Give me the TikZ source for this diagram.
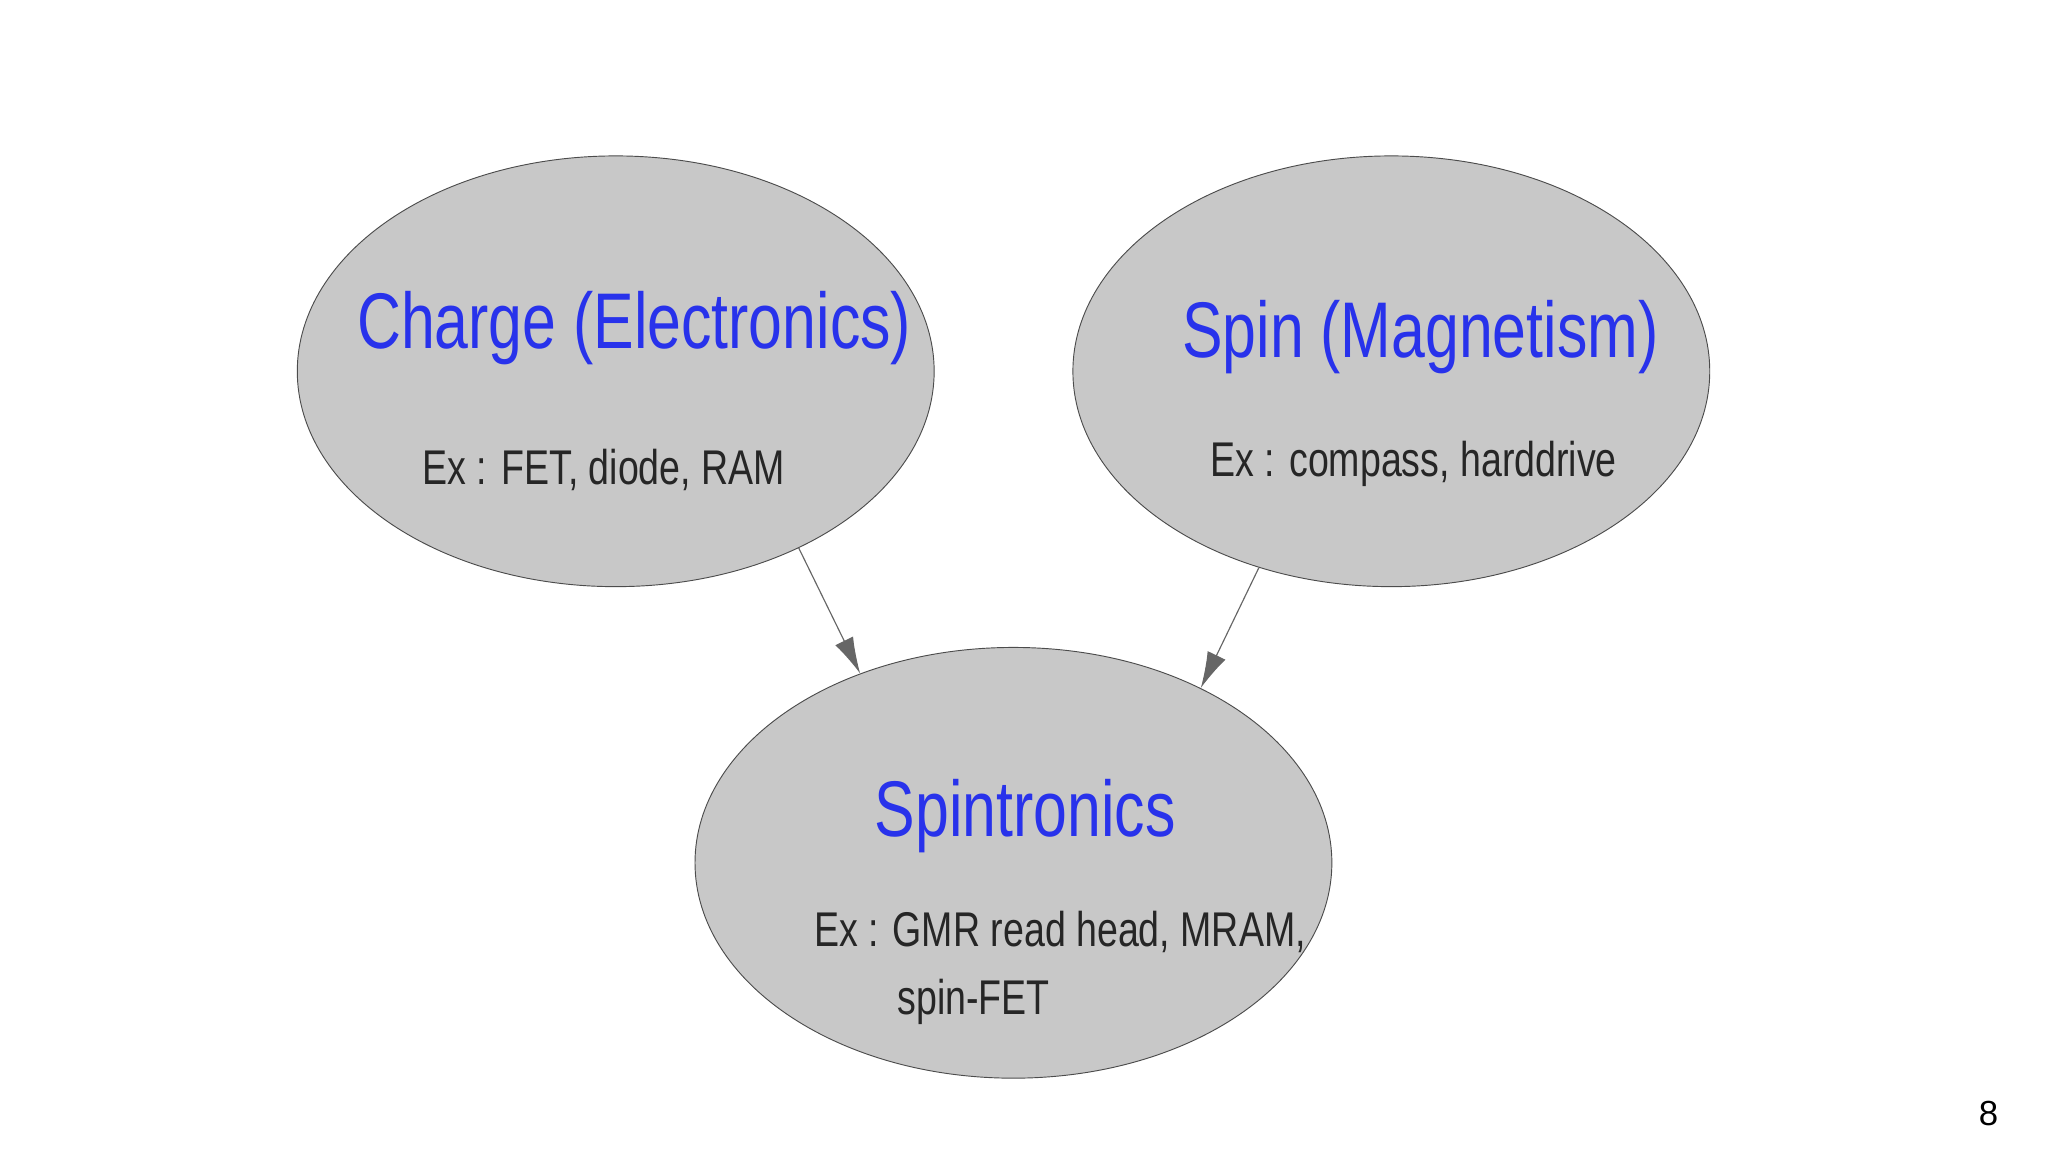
\documentclass[tikz,border=0pt]{standalone}
\usepackage{fontspec}
\setmainfont{Liberation Sans}
\newfontfamily\narrowsf{Liberation Sans}[FakeStretch=0.77]
\usetikzlibrary{shapes.geometric,arrows.meta}
\definecolor{bubblegray}{RGB}{200,200,200}
\definecolor{titleblue}{RGB}{40,50,235}
\tikzset{
  bubble/.style={ellipse, draw=black!70, line width=0.4pt, fill=bubblegray, minimum width=9.64cm, minimum height=6.52cm, inner sep=0pt},
  title/.style={font=\narrowsf\fontsize{34}{40}\selectfont, text=titleblue},
  example/.style={font=\narrowsf\fontsize{21}{25}\selectfont, text=black!85},
  link/.style={-{Latex[length=0.55cm,width=0.3cm]}, line width=0.5pt, draw=black!60}
}
\begin{document}
\begin{tikzpicture}
        \useasboundingbox (0,0) rectangle (31,-17.44);
        \node[bubble] (charge) at(9.32,-5.62){};
        \node[bubble] (spin) at(21.06,-5.62){};
        \node[bubble] (spintronics) at(15.34,-13.06){};

        \node[title] (charge-title) at(9.6,-4.96){Charge (Electronics)};
        \node[example] (charge-ex) at(9.14,-7.12){Ex : FET, diode, RAM};

        \node[title] (spin-title) at(21.5,-5.1){Spin (Magnetism)};
        \node[example] (spin-ex) at(21.4,-7.02){Ex : compass, harddrive};

        \node[title] (spintronics-title) at(15.52,-12.36){Spintronics};
        \node[example, anchor=west] (spintronics-ex) at(12.2,-14.1){Ex : GMR read head, MRAM,};
        \node[example, anchor=west] (spintronics-ex2) at(13.46,-15.16){spin-FET};

        \draw [link] (charge.-44) -- (spintronics.129);
        \draw [link] (spin.-124) -- (spintronics.43);

        \node[font=\fontsize{15}{18}\selectfont] (page) at(30.1,-16.86){8};
\end{tikzpicture}
\end{document}
